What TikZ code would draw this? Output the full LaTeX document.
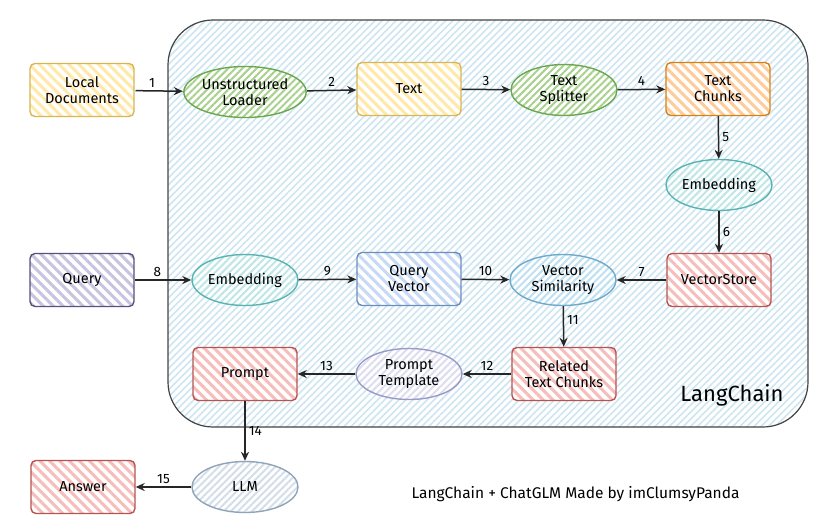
\documentclass[tikz,border=0pt]{standalone}
\usepackage{fontspec}
\setmainfont{Fira Sans}
\usetikzlibrary{arrows.meta,shapes.geometric,patterns.meta}
\definecolor{yb}{HTML}{D6B656}\definecolor{yf}{HTML}{FFE9A8}
\definecolor{gb}{HTML}{6AA84F}\definecolor{gf}{HTML}{A9D18E}
\definecolor{ob}{HTML}{D98014}\definecolor{of}{HTML}{FFCC99}
\definecolor{tb}{HTML}{5AB3B3}\definecolor{tf}{HTML}{BFE6E6}
\definecolor{pb}{HTML}{56517E}\definecolor{pf}{HTML}{C8C4E0}
\definecolor{bb}{HTML}{6C8EBF}\definecolor{bf}{HTML}{C7DAF5}
\definecolor{sb}{HTML}{6EAACB}\definecolor{sf}{HTML}{BFE0F0}
\definecolor{rb}{HTML}{B85450}\definecolor{rf}{HTML}{F6BDBB}
\definecolor{lb}{HTML}{9A9AC8}\definecolor{lf}{HTML}{DDDDF0}
\definecolor{mb}{HTML}{8EA4B8}\definecolor{mf}{HTML}{D3DEE8}
\definecolor{cf}{HTML}{CDE6F2}\definecolor{cb}{HTML}{444444}
\tikzset{
  hatchR/.style={preaction={fill=white},pattern={Lines[angle=-45,distance=7pt,line width=3pt]},pattern color=#1},
  hatchE/.style={preaction={fill=white},pattern={Lines[angle=45,distance=5pt,line width=2pt]},pattern color=#1},
  boxn/.style 2 args={draw=#1,line width=1.4pt,rounded corners=5pt,minimum width=104pt,minimum height=53pt,hatchR=#2,align=center,font=\fontsize{14.5}{16}\selectfont},
  elln/.style 2 args={ellipse,draw=#1,line width=1.4pt,minimum width=106pt,minimum height=51pt,inner sep=0pt,hatchE=#2,align=center,font=\fontsize{14.5}{16}\selectfont},
  conn/.style={-{Stealth[length=9pt,width=8pt,open]},line width=1.5pt,draw=black!85},
  lab/.style={font=\fontsize{13.5}{15}\selectfont,inner sep=3pt}
}
\begin{document}
\begin{tikzpicture}[x=1pt,y=-1pt]
\useasboundingbox (0,0) rectangle (825,530);
\fill[white] (0,0) rectangle (825,530);
% container
\path[draw=cb,line width=1.2pt,rounded corners=45pt,preaction={fill=white},pattern={Lines[angle=45,distance=5pt,line width=1.6pt]},pattern color=cf] (168,20) rectangle (808,427);
\node[font=\fontsize{22}{24}\selectfont] (lc) at (732,395) {LangChain};
% nodes
\node[boxn={yb}{yf}] (ld) at (82,90) {Local\\Documents};
\node[elln={gb}{gf}] (ul) at (245,92) {Unstructured\\Loader};
\node[boxn={yb}{yf}] (tx) at (409,89) {Text};
\node[elln={gb}{gf}] (ts) at (564,90) {Text\\Splitter};
\node[boxn={ob}{of}] (tc) at (718,89) {Text\\Chunks};
\node[elln={tb}{tf}] (er) at (719,185) {Embedding};
\node[boxn={rb}{rf}] (vs) at (719,280) {VectorStore};
\node[elln={sb}{sf}] (vsim) at (563,280) {Vector\\Similarity};
\node[boxn={bb}{bf}] (qv) at (409,279) {Query\\Vector};
\node[elln={tb}{tf}] (el) at (245,280) {Embedding};
\node[boxn={pb}{pf}] (q) at (82,280) {Query};
\node[boxn={rb}{rf}] (rtc) at (564,374) {Related\\Text Chunks};
\node[elln={lb}{lf}] (pt) at (409,374) {Prompt\\Template};
\node[boxn={rb}{rf}] (pr) at (245,374) {Prompt};
\node[elln={mb}{mf}] (llm) at (245,487) {LLM};
\node[boxn={rb}{rf}] (ans) at (83,487) {Answer};
% connectors
\draw[conn] (ld) -- node[lab,above,pos=0.35]{1} (ul);
\draw[conn] (ul) -- node[lab,above]{2} (tx);
\draw[conn] (tx) -- node[lab,above]{3} (ts);
\draw[conn] (ts) -- node[lab,above]{4} (tc);
\draw[conn] (tc) -- node[lab,right]{5} (er);
\draw[conn] (er) -- node[lab,right]{6} (vs);
\draw[conn] (vs) -- node[lab,above]{7} (vsim);
\draw[conn] (q) -- node[lab,above,pos=0.4]{8} (el);
\draw[conn] (el) -- node[lab,above]{9} (qv);
\draw[conn] (qv) -- node[lab,above]{10} (vsim);
\draw[conn] (vsim) -- node[lab,right,pos=0.35]{11} (rtc);
\draw[conn] (rtc) -- node[lab,above]{12} (pt);
\draw[conn] (pt) -- node[lab,above]{13} (pr);
\draw[conn] (pr) -- node[lab,right]{14} (llm);
\draw[conn] (llm) -- node[lab,above]{15} (ans);
\node[anchor=west,font=\fontsize{15.5}{17}\selectfont] (cap) at (408,494) {LangChain + ChatGLM Made by imClumsyPanda};
\end{tikzpicture}
\end{document}
